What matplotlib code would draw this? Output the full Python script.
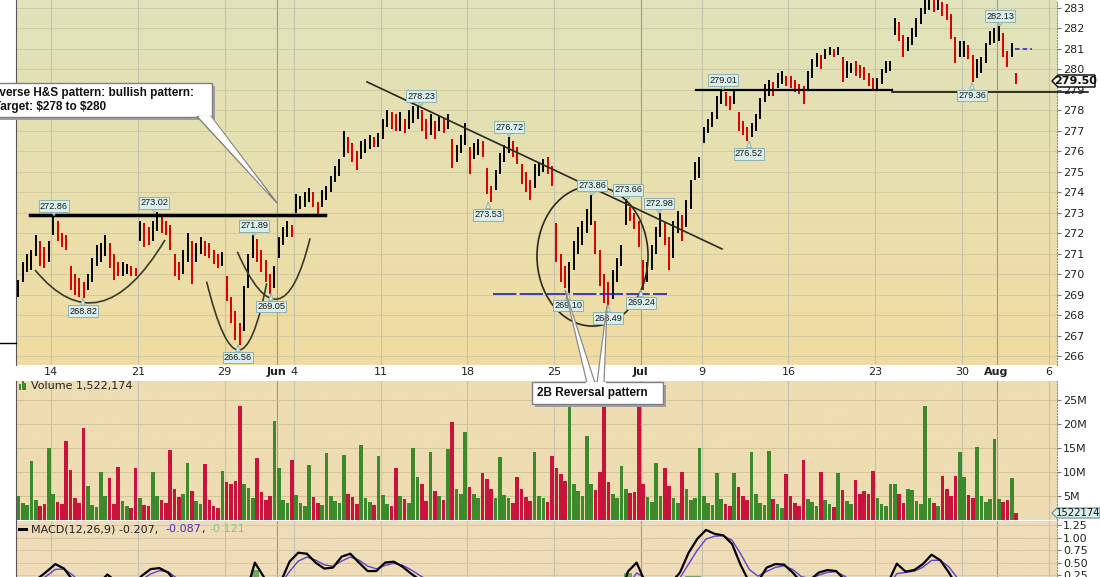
import numpy as np
import pandas as pd
import matplotlib
matplotlib.use('Agg')
import matplotlib.pyplot as plt
from matplotlib.colors import LinearSegmentedColormap
from matplotlib.patches import Ellipse, Polygon, Rectangle, PathPatch
from matplotlib.path import Path

W, H = 1100, 577

###--- Data ---###
# intraday bars, 4 per session (Jul 3 half session -> 2), May 10 .. Aug 2
highs = [
    269.7, 270.6, 271.0, 271.2,   # May 10
    271.9, 271.6, 271.3, 271.6,
    272.86, 272.6, 272.0, 271.9,  # May 14
    270.4, 270.0, 269.8, 269.6,
    270.0, 270.8, 271.4, 271.5,
    271.9, 271.5, 271.0, 270.6,
    270.6, 270.5, 270.4, 270.3,
    272.6, 272.5, 272.3, 272.6,   # May 21
    273.02, 272.8, 272.6, 272.4,
    271.0, 270.6, 271.2, 272.0,
    271.6, 271.5, 271.8, 271.6,
    271.5, 271.2, 271.0, 271.1,
    269.9, 268.9, 268.2, 267.6,   # May 29
    269.4, 271.0, 271.89, 271.7,
    271.2, 270.7, 270.0, 270.4,
    271.8, 272.3, 272.6, 272.4,
    273.9, 273.8, 274.0, 274.2,   # Jun 4
    274.0, 273.5, 274.1, 274.3,
    274.8, 275.3, 275.6, 277.0,
    276.7, 276.4, 276.0, 276.5,
    276.6, 276.8, 276.7, 276.9,
    277.6, 278.0, 277.9, 277.8,   # Jun 11
    277.9, 277.6, 278.0, 278.2,
    278.23, 278.0, 277.6, 277.8,
    277.5, 277.7, 277.6, 277.8,
    276.6, 276.3, 276.8, 277.4,
    276.2, 276.4, 276.6, 276.5,   # Jun 18
    275.2, 274.3, 275.1, 275.9,
    276.3, 276.72, 276.5, 276.2,
    275.4, 275.0, 274.6, 275.4,
    275.5, 275.6, 275.7, 275.3,
    272.5, 271.0, 270.4, 270.6,   # Jun 25
    271.6, 272.3, 272.6, 273.2,
    273.86, 272.6, 271.2, 270.0,
    269.6, 270.2, 270.8, 271.4,
    273.66, 273.3, 273.0, 272.6,
    270.7, 270.6, 271.4, 272.3,   # Jul 2
    272.98, 272.5,
    271.8, 272.6, 273.1, 272.9,
    273.6, 274.6, 275.5, 275.7,
    277.2, 277.6, 277.9, 278.7,   # Jul 9
    279.01, 278.9, 278.7, 279.0,
    277.9, 277.5, 277.2, 277.4,
    277.8, 278.6, 279.3, 279.5,
    279.4, 279.8, 279.9, 279.7,
    279.7, 279.5, 279.3, 279.2,   # Jul 16
    279.9, 280.5, 280.8, 280.7,
    281.0, 281.1, 281.0, 281.1,
    280.6, 280.4, 280.3, 280.4,
    280.2, 280.1, 279.8, 279.6,
    279.6, 280.0, 280.4, 280.4,   # Jul 23
    282.5, 282.3, 281.7, 281.6,
    282.0, 282.5, 283.0, 283.4,
    283.5, 283.4, 283.5, 283.3,
    283.2, 282.7, 281.6, 281.4,
    281.4, 281.2, 280.7, 280.5,   # Jul 30
    280.6, 281.3, 281.9, 282.0,
    282.13, 281.8, 280.9, 281.3,
    279.8,                        # Aug 2
]
lows = [
    268.9, 269.6, 270.1, 270.2,
    270.9, 270.4, 270.3, 270.6,
    271.9, 271.6, 271.3, 271.2,
    269.2, 269.0, 268.9, 268.82,
    269.2, 269.6, 270.4, 270.6,
    270.9, 270.3, 269.7, 269.9,
    269.9, 270.0, 269.9, 269.9,
    271.6, 271.3, 271.4, 271.6,
    272.1, 272.0, 271.9, 271.2,
    269.9, 269.7, 270.0, 270.6,
    269.5, 270.6, 271.0, 270.9,
    270.8, 270.5, 270.3, 270.4,
    268.7, 267.6, 266.8, 266.56,
    267.2, 269.3, 270.8, 270.6,
    270.1, 269.6, 269.05, 269.3,
    270.8, 271.4, 271.8, 271.8,
    273.0, 273.2, 273.3, 273.5,
    273.3, 272.9, 273.3, 273.6,
    274.0, 274.5, 274.8, 275.7,
    275.9, 275.5, 275.1, 275.6,
    275.9, 276.1, 276.2, 276.2,
    276.6, 277.2, 277.1, 277.0,
    277.0, 276.9, 277.1, 277.4,
    277.6, 277.0, 276.6, 276.8,
    276.6, 277.0, 276.9, 277.1,
    275.2, 275.5, 275.9, 276.3,
    274.9, 275.6, 275.8, 275.7,
    273.9, 273.53, 274.1, 274.9,
    275.5, 275.9, 275.7, 275.4,
    274.4, 274.0, 273.6, 274.2,
    274.8, 275.0, 274.9, 274.3,
    270.6, 269.6, 269.3, 269.10,
    270.2, 271.0, 271.4, 272.0,
    272.4, 271.0, 269.4, 268.6,
    268.49, 268.8, 269.6, 270.4,
    272.4, 272.6, 272.2, 271.3,
    269.24, 269.6, 270.2, 271.0,
    271.8, 271.4,
    270.2, 270.8, 272.0, 271.6,
    272.3, 273.2, 274.6, 274.7,
    276.4, 276.9, 277.2, 277.6,
    278.3, 278.2, 278.0, 278.3,
    277.0, 276.8, 276.52, 276.7,
    277.0, 277.6, 278.4, 278.7,
    278.7, 279.1, 279.3, 279.2,
    279.1, 278.9, 278.8, 278.3,
    279.0, 279.6, 280.1, 280.0,
    280.5, 280.7, 280.6, 280.7,
    279.4, 279.6, 279.8, 279.7,
    279.6, 279.5, 279.2, 279.0,
    279.0, 279.3, 279.8, 279.9,
    281.7, 281.4, 280.6, 280.9,
    281.2, 281.6, 282.2, 282.7,
    282.9, 282.8, 282.9, 282.6,
    282.4, 281.5, 280.3, 280.6,
    280.6, 280.5, 279.36, 279.6,
    279.8, 280.3, 281.2, 281.3,
    281.4, 280.6, 280.1, 280.6,
    279.3,
]
# volume in millions, same bars
vols = [
    5.0, 3.5, 3.2, 12.2,
    4.2, 3.0, 3.4, 15.1,
    5.5, 3.8, 3.3, 16.5,
    10.4, 4.5, 3.6, 19.1,
    7.0, 3.2, 2.8, 10.0,
    5.0, 8.7, 3.4, 11.0,
    4.0, 3.0, 2.6, 10.8,
    4.5, 3.2, 2.9, 10.0,
    5.0, 4.2, 3.5, 14.6,
    6.5, 4.8, 5.5, 11.8,
    6.0, 4.0, 3.3, 11.6,
    4.2, 3.0, 2.5, 10.2,
    8.0, 7.4, 8.1, 23.8,
    7.6, 6.6, 4.5, 13.0,
    5.8, 4.2, 5.0, 20.6,
    10.8, 4.2, 3.6, 12.5,
    5.2, 3.6, 3.0, 11.5,
    4.8, 3.5, 3.2, 14.0,
    5.0, 4.0, 3.6, 13.5,
    5.5, 4.8, 3.4, 15.6,
    4.6, 3.8, 3.2, 13.3,
    5.2, 3.4, 3.0, 10.8,
    5.0, 4.4, 3.6, 14.9,
    9.0, 7.6, 4.0, 14.2,
    6.0, 5.0, 4.2, 14.8,
    20.5, 6.5, 5.4, 18.3,
    6.8, 5.5, 4.6, 9.7,
    8.5, 6.4, 4.5, 13.2,
    5.2, 4.6, 3.5, 9.0,
    6.4, 4.8, 4.0, 14.2,
    5.0, 4.5, 3.8, 13.3,
    10.8, 9.6, 8.1, 26.0,
    7.4, 6.0, 5.0, 17.5,
    7.6, 6.2, 10.0, 23.6,
    8.0, 5.5, 4.6, 11.2,
    6.5, 5.6, 5.8, 27.0,
    7.5, 4.8, 3.8, 11.8,
    5.0, 10.8,
    7.0, 4.5, 3.6, 9.9,
    6.5, 4.2, 4.6, 15.1,
    5.0, 3.6, 3.2, 9.7,
    4.4, 3.4, 3.0, 9.7,
    6.8, 5.0, 4.2, 14.2,
    5.5, 3.6, 3.2, 14.4,
    4.4, 3.3, 2.6, 9.6,
    5.0, 3.6, 3.0, 12.6,
    4.4, 3.8, 3.0, 9.9,
    4.2, 3.4, 2.8, 9.7,
    6.2, 4.0, 3.4, 8.3,
    5.5, 6.0, 5.4, 10.2,
    4.6, 3.4, 3.0, 7.5,
    7.5, 5.4, 3.6, 6.5,
    6.2, 4.0, 3.4, 23.8,
    4.6, 3.6, 3.0, 9.2,
    6.5, 5.0, 9.2, 14.2,
    9.0, 5.2, 4.6, 15.3,
    5.0, 3.8, 4.4, 16.9,
    4.4, 3.8, 4.2, 8.8,
    1.52,
]
# MACD line, 2 readings per session
macd = [
    0.00, 0.10, 0.18, 0.32, 0.47, 0.38, 0.15, -0.05, -0.08, 0.08,
    0.26, 0.12, 0.00, 0.05, 0.24, 0.37, 0.39, 0.30, 0.08, 0.00,
    0.04, 0.10, 0.05, -0.05, -0.40, -0.65, -0.10, 0.50, 0.22, -0.10,
    0.12, 0.52, 0.70, 0.68, 0.50, 0.38, 0.40, 0.62, 0.68, 0.50,
    0.33, 0.33, 0.50, 0.52, 0.42, 0.28, 0.15, 0.05, 0.00, -0.05,
    -0.15, -0.10, -0.15, -0.10, -0.30, -0.20, 0.00, 0.10, 0.00, -0.15,
    -0.10, -0.05, -0.40, -0.60, -0.40, -0.10, 0.00, -0.30, -0.50, -0.25,
    0.32, 0.50, 0.10, -0.10, 0.00, 0.10, 0.30, 0.70, 0.98, 1.16,
    1.08, 1.05, 0.88, 0.45, 0.10, 0.12, 0.40, 0.47, 0.46, 0.30,
    0.10, 0.15, 0.30, 0.35, 0.33, 0.15, 0.00, -0.05, -0.10, -0.05,
    0.10, 0.48, 0.32, 0.35, 0.47, 0.66, 0.55, 0.30, 0.00, -0.20,
    -0.35, -0.20, 0.00, 0.05, -0.207,
]

tick_pos = [0, 5, 10, 13, 14, 19, 24, 29, 34, 37.5, 42.5, 47.5, 52.5, 54.5, 57.5]
tick_lab = ['14', '21', '29', 'Jun', '4', '11', '18', '25', 'Jul', '9', '16', '23', '30', 'Aug', '6']
month_lab = ['Jun', 'Jul', 'Aug']

label_vals = [272.86, 268.82, 273.02, 266.56, 271.89, 269.05, 278.23, 276.72, 273.53,
              273.86, 273.66, 272.98, 269.10, 268.49, 269.24, 279.01, 276.52, 282.13, 279.36]
label_pos = [0.17, 1.84, 5.94, 10.78, 11.70, 12.68, 21.33, 26.40, 25.19,
             31.18, 33.26, 35.04, 29.80, 32.10, 34.00, 38.73, 40.23, 54.70, 53.08]
label_up = [1, 0, 1, 0, 1, 0, 1, 1, 0, 1, 1, 1, 0, 0, 0, 1, 0, 1, 0]

###--- derived ---###
x = -1.875 + 0.25*np.arange(len(highs))
xm = -1.75 + 0.5*np.arange(len(macd))
mid = (np.array(highs)+np.array(lows))/2
down = np.r_[False, mid[1:] < mid[:-1]]
pcol = np.where(down, '#d40000', '#000000')
vcol = np.where(down, '#c8143c', '#3d8a2c')
macd = np.array(macd)
sig = pd.Series(macd).ewm(alpha=0.55, adjust=False).mean().values
hist = macd - sig

XL = (-2.017, 57.98)

def fpx(px, py):
    return (px/W, 1-py/H)

def panel(ax, ctop, cbot):
    cm = LinearSegmentedColormap.from_list('bg', [cbot, ctop])
    ax.imshow(np.linspace(0, 1, 256).reshape(-1, 1), cmap=cm, origin='lower',
              extent=[0, 1, 0, 1], transform=ax.transAxes, aspect='auto', zorder=0)
    for t, lab in zip(tick_pos, tick_lab):
        ax.axvline(t, color='#9a9a90' if lab in month_lab else '#c4c4b0', lw=0.8, zorder=1)
    for s in ['top', 'bottom']:
        ax.spines[s].set_visible(False)
    ax.spines['left'].set_color('#555555')
    ax.spines['right'].set_color('#8a8a8a')
    ax.spines['right'].set_linestyle(':')
    ax.yaxis.tick_right()
    ax.tick_params(axis='y', labelsize=8, length=3, pad=1.5, color='#777777', labelcolor='#222222')
    ax.tick_params(axis='x', length=0)

fig = plt.figure(figsize=(11, 5.77), dpi=100)

##-- price panel --##
ax1 = fig.add_axes([16/W, 1-365/H, 1041/W, 365/H])
panel(ax1, '#dfe3bb', '#f1dca2')
for p in range(266, 284):
    ax1.axhline(p, color='#c9c49a', lw=0.7, alpha=0.7, zorder=1)
ax1.vlines(x, lows, highs, colors=pcol, lw=1.4, zorder=3)
ax1.set_xlim(XL)
ax1.set_ylim(265.56, 283.39)
ax1.set_yticks(range(266, 284))
ax1.set_xticks(tick_pos)
ax1.set_xticklabels(tick_lab)
ax1.tick_params(axis='x', labelsize=8, pad=1.5, labelcolor='#222222')
for t in ax1.get_xticklabels():
    if t.get_text() in month_lab:
        t.set_fontweight('bold')

# chart drawings
ax1.plot([-1.21, 15.79], [272.89, 272.89], color='k', lw=2.5, zorder=4)
for arc in [[(-0.92, 270.20), (2.82, 268.65), (6.57, 271.67)],
            [(8.97, 269.63), (10.80, 266.29), (12.43, 269.55)],
            [(10.74, 271.09), (13.07, 268.78), (14.93, 271.75)]]:
    p0, b, p2 = [np.array(a) for a in arc]
    c = 2*b - (p0+p2)/2
    ax1.add_patch(PathPatch(Path([p0, c, p2], [Path.MOVETO, Path.CURVE3, Path.CURVE3]),
                            fc='none', ec='#3a3a2a', lw=1.2, zorder=4))
ax1.plot([18.21, 38.67], [279.39, 271.23], color='#2a2a20', lw=1.2, zorder=4)
ax1.add_patch(Ellipse((31.21, 270.88), 6.40, 6.84, fc='none', ec='#2a2a20', lw=1.2, zorder=4))
ax1.plot([25.48, 35.5], [269.03, 269.03], color='#2020c0', lw=1.2, ls=(0, (14, 2)), zorder=4)
ax1.plot([37.18, 48.47], [278.99, 278.99], color='k', lw=1.6, zorder=4)
ax1.plot([48.47, 59.77], [278.92, 278.92], color='k', lw=1.1, zorder=4, clip_on=False)
ax1.plot([55.56, 56.54], [281.0, 281.0], color='#2020c0', lw=1.1, ls=(0, (3, 2)), zorder=4)

for v, p, up in zip(label_vals, label_pos, label_up):
    ax1.annotate(f'{v:.2f}', xy=(p, v), xytext=(0, 9.5 if up else -13), textcoords='offset pixels',
                 ha='center', va='center', fontsize=6.6, family='Liberation Sans', color='#1a1a1a',
                 bbox=dict(boxstyle='square,pad=0.15', fc='#d9efec', ec='#8fb1b0', lw=0.7),
                 arrowprops=dict(arrowstyle='wedge,tail_width=0.5,shrink_factor=0.5',
                                 fc='#d9efec', ec='#8fb1b0', lw=0.7, shrinkA=0, shrinkB=0),
                 zorder=7, annotation_clip=False)

##-- volume panel --##
ax2 = fig.add_axes([16/W, 1-520/H, 1041/W, 139/H])
panel(ax2, '#eedcb3', '#efdcb3')
for v in range(5, 30, 5):
    ax2.axhline(v, color='#d4c49a', lw=0.7, zorder=1)
ax2.bar(x, vols, width=0.21, color=vcol, lw=0, zorder=3)
ax2.set_xlim(XL)
ax2.set_ylim(0, 28.96)
ax2.set_yticks([5, 10, 15, 20, 25])
ax2.set_yticklabels(['5M', '10M', '15M', '20M', '25M'])
ax2.set_xticks([])

##-- MACD panel --##
ax3 = fig.add_axes([16/W, 0, 1041/W, 56/H])
panel(ax3, '#efdcb8', '#efdcb8')
for v in [0.25, 0.5, 0.75, 1.0, 1.25]:
    ax3.axhline(v, color='#d8c8a4', lw=0.7, zorder=1)
ax3.bar(xm, hist, width=0.45, color='#5a9e48', alpha=0.85, lw=0, zorder=2)
ax3.plot(xm, sig, color='#6040d0', lw=1.0, zorder=3)
ax3.plot(xm, macd, color='k', lw=1.6, zorder=4)
ax3.set_xlim(XL)
ax3.set_ylim(0.21, 1.34)
ax3.set_yticks([0.25, 0.5, 0.75, 1.0, 1.25])
ax3.set_yticklabels(['0.25', '0.50', '0.75', '1.00', '1.25'])
ax3.set_xticks([])

##-- panel titles --##
for i, hgt in enumerate([6, 9, 7]):
    fig.add_artist(Rectangle(fpx(19+2.6*i, 390), 2.0/W, hgt/H, transform=fig.transFigure,
                             fc='#3d8a2c', ec='none'))
fig.text(*fpx(31, 386), 'Volume 1,522,174', fontsize=8, color='#222222', va='center')
fig.add_artist(plt.Line2D([19/W, 26/W], [1-529/H]*2, color='k', lw=2.2, transform=fig.transFigure))
fig.text(*fpx(31, 529), 'MACD(12,26,9) -0.207,', fontsize=8, color='#222222', va='center')
fig.text(*fpx(165, 529), '-0.087', fontsize=8, color='#5030c0', va='center')
fig.text(*fpx(201, 529), ',', fontsize=8, color='#222222', va='center')
fig.text(*fpx(209, 529), '-0.121', fontsize=8, color='#8cc48a', va='center')

##-- callouts --##
fig.add_artist(Rectangle(fpx(-5, 120), 220/W, 34/H, transform=fig.transFigure, fc='#a0a0a0', ec='none', zorder=8))
fig.add_artist(Rectangle(fpx(-5, 117), 217/W, 34/H, transform=fig.transFigure, fc='white', ec='#808080', lw=1, zorder=9))
fig.add_artist(Polygon([fpx(197, 116.5), fpx(211, 116.5), fpx(277, 203)], transform=fig.transFigure,
                       fc='white', ec='#808080', lw=1, zorder=9))
fig.add_artist(Polygon([fpx(198, 115.5), fpx(210, 115.5), fpx(270, 195)], transform=fig.transFigure,
                       fc='white', ec='none', zorder=10))
fig.text(*fpx(194, 93), 'Inverse H&S pattern: bullish pattern:', ha='right', va='center',
         fontsize=8.5, fontweight='bold', family='Liberation Sans', color='#111111', zorder=11)
fig.text(*fpx(106, 107), r'Target: \$278 to \$280', ha='right', va='center',
         fontsize=8.5, fontweight='bold', family='Liberation Sans', color='#111111', zorder=11)

fig.add_artist(Rectangle(fpx(535, 407), 131/W, 22/H, transform=fig.transFigure, fc='#a0a0a0', ec='none', zorder=8))
fig.add_artist(Rectangle(fpx(532, 404), 131/W, 22/H, transform=fig.transFigure, fc='white', ec='#808080', lw=1, zorder=9))
for tri in [[(587, 383), (595, 383), (565, 290)], [(597, 383), (604, 383), (607, 305)]]:
    fig.add_artist(Polygon([fpx(*t) for t in tri], transform=fig.transFigure,
                           fc='white', ec='#8a8a8a', lw=0.9, zorder=9))
fig.add_artist(Rectangle(fpx(586, 385), 20/W, 3/H, transform=fig.transFigure, fc='white', ec='none', zorder=10))
fig.text(*fpx(537, 393), '2B Reversal pattern', ha='left', va='center',
         fontsize=8.5, fontweight='bold', family='Liberation Sans', color='#111111', zorder=11)

##-- last value tags --##
fig.add_artist(Polygon([fpx(1052, 81), fpx(1058, 75), fpx(1095, 75), fpx(1095, 87), fpx(1058, 87)],
                       transform=fig.transFigure, fc='#f4f8f0', ec='k', lw=1, zorder=9))
fig.text(*fpx(1076, 81), '279.50', ha='center', va='center', fontsize=8, fontweight='bold',
         color='#111111', zorder=10)
fig.add_artist(Polygon([fpx(1052, 513), fpx(1057, 508), fpx(1100, 508), fpx(1100, 518), fpx(1057, 518)],
                       transform=fig.transFigure, fc='#d9efec', ec='#5a8a98', lw=0.8, zorder=9))
fig.text(*fpx(1078, 513), '1522174', ha='center', va='center', fontsize=7.2, color='#111111', zorder=10)

fig.add_artist(plt.Line2D([0, 16/W], [1-343/H]*2, color='k', lw=1, transform=fig.transFigure))

fig.savefig('out.png', dpi=100)
